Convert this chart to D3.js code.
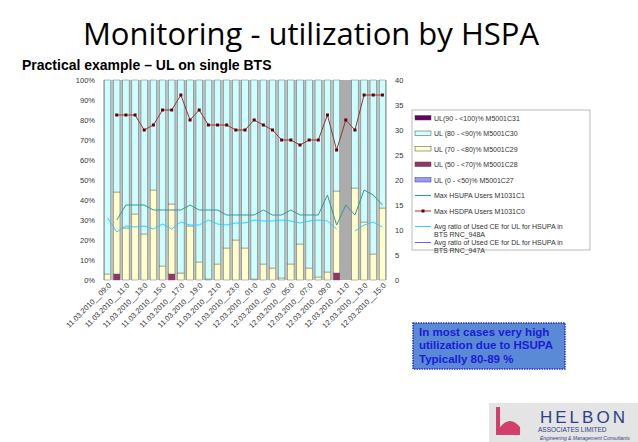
<!DOCTYPE html>
<html><head><meta charset="utf-8">
<script src="https://cdn.jsdelivr.net/npm/d3@7"></script>
<style>body{margin:0;background:#fff}</style>
</head><body>
<script>
"use strict";
var hours = ["09","10","11","12","13","14","15","16","17","18","19","20","21","22","23",
  "00","01","02","03","04","05","06","07","08","09","10","11","12","13","14","15"];
var categories = hours.map(function(h, i) { return (i < 15 ? "11.03.2010__" : "12.03.2010__") + h + ":0"; });
var ul70 = [3,41,26,33,23,45,7,35,3.5,27,9,0.5,8,16,20,16,0.5,8,6,1,8,18,6,1.5,4,41,0,46,29,13,36];
var ul50 = [0,3,0,0,0,0,0,3,0,0,0,0,0,0,0,0,0,0,0,0,0,0,0,0,0,3.5,0,0,0,0,0];
var hsdpa = [null,33,33,33,30,31,34,34,37,32,34,31,31,31,30,30,32,31,30,28,28,27,28,28,33,26,32,30,37,37,37];
var hsupa = [null,12,15,15,15,14,14,14,14,15,14,14,14,13,13,13,13,14,13,13,14,13,13,13,17,11,15,13,18,17,15];
var avgUL = [31,24,27,26.5,27,25.5,28,25.5,29,27.5,27.5,30,28,27.5,28.5,28.5,30,29.5,29.5,30,29.5,28.5,29.5,30,29.5,25.5,null,24.5,27.5,29,26.5];
var leftTicks = [0,10,20,30,40,50,60,70,80,90,100];
var rightTicks = [0,5,10,15,20,25,30,35,40];
var legendItems = [
  {t:["UL(90 - <100)% M5001C31"], k:"box", c:"#660066"},
  {t:["UL (80 - <90)% M5001C30"], k:"box", c:"#ccffff"},
  {t:["UL (70 - <80)% M5001C29"], k:"box", c:"#ffffcc"},
  {t:["UL (50 - <70)% M5001C28"], k:"box", c:"#993366"},
  {t:["UL (0 - <50)% M5001C27"], k:"box", c:"#9999ff"},
  {t:["Max HSUPA Users M1031C1"], k:"line", c:"#339999"},
  {t:["Max HSDPA Users M1031C0"], k:"dot", c:"#993333"},
  {t:["Avg ratio of Used CE for UL for HSUPA in","BTS RNC_948A"], k:"line", c:"#33ccff"},
  {t:["Avg ratio of Used CE for DL for HSUPA in","BTS RNC_947A"], k:"line", c:"#6666ff"}
];

var svg = d3.select("body").append("svg").attr("width", 638).attr("height", 442)
  .style("font-family", "Liberation Sans, Arial, sans-serif");

svg.append("text").attr("x", 311).attr("y", 45).attr("text-anchor", "middle")
  .style("font-family", "Open Sans").style("font-size", "31px").text("Monitoring - utilization by HSPA");
svg.append("text").attr("x", 22).attr("y", 70).style("font-weight", "bold").style("font-size", "14px")
  .text("Practical example \u2013 UL on single BTS");

var L = 103, R = 387, T = 80, B = 280;
var x = d3.scaleBand().domain(d3.range(categories.length)).range([L, R]).paddingInner(0.3).paddingOuter(0.15);
var y = d3.scaleLinear().domain([0, 100]).range([B, T]);
var y2 = d3.scaleLinear().domain([0, 40]).range([B, T]);

svg.append("rect").attr("x", L).attr("y", T).attr("width", R - L).attr("height", B - T).attr("fill", "#c0c0c0");
svg.append("rect").attr("x", x(25) + x.bandwidth()).attr("y", T).attr("width", x(27) - x(25) - x.bandwidth())
  .attr("height", B - T).attr("fill", "#acacac");

var g = svg.append("g");
categories.forEach(function(c, i) {
  if (i === 26) return;
  var segs = [[0, ul50[i], "#993366"], [ul50[i], ul50[i] + ul70[i], "#ffffcc"], [ul50[i] + ul70[i], 100, "#ccffff"]];
  segs.forEach(function(s) {
    if (s[1] - s[0] <= 0) return;
    g.append("rect").attr("x", x(i)).attr("width", x.bandwidth())
      .attr("y", y(s[1])).attr("height", y(s[0]) - y(s[1]))
      .attr("fill", s[2]).attr("stroke", "#555").attr("stroke-width", 0.4);
  });
});

svg.append("g").attr("transform", "translate(" + L + ",0)")
  .call(d3.axisLeft(y).tickValues(leftTicks).tickSize(0).tickPadding(8).tickFormat(function(d) { return d + "%"; }))
  .call(function(a) { a.select(".domain").remove(); a.selectAll("text").style("font-size", "7.5px").attr("fill", "#333"); });
svg.append("g").attr("transform", "translate(" + R + ",0)")
  .call(d3.axisRight(y2).tickValues(rightTicks).tickSize(0).tickPadding(8))
  .call(function(a) { a.select(".domain").remove(); a.selectAll("text").style("font-size", "7.5px").attr("fill", "#333"); });

var cx = function(i) { return x(i) + x.bandwidth() / 2; };
var line2 = d3.line().defined(function(d) { return d != null; }).x(function(d, i) { return cx(i); }).y(function(d) { return y2(d); });
var line1 = d3.line().defined(function(d) { return d != null; }).x(function(d, i) { return cx(i); }).y(function(d) { return y(d); });

svg.append("path").attr("d", line1(avgUL)).attr("fill", "none").attr("stroke", "#33ccff").attr("stroke-width", 1);
svg.append("path").attr("d", line2(hsupa)).attr("fill", "none").attr("stroke", "#339999").attr("stroke-width", 1);
svg.append("path").attr("d", line2(hsdpa)).attr("fill", "none").attr("stroke", "#993333").attr("stroke-width", 1);
hsdpa.forEach(function(d, i) {
  if (d == null) return;
  svg.append("rect").attr("x", cx(i) - 1.5).attr("y", y2(d) - 1.5).attr("width", 3).attr("height", 3).attr("fill", "#660000");
});

// x labels
categories.forEach(function(c, i) {
  if (i % 2) return;
  svg.append("text").attr("transform", "translate(" + (cx(i) + 4) + "," + (B + 6) + ") rotate(-45)")
    .attr("text-anchor", "end").style("font-size", "7.5px").attr("fill", "#333").text(c);
});

// legend
var lg = svg.append("g").attr("transform", "translate(412,110)");
lg.append("rect").attr("width", 178).attr("height", 140).attr("fill", "#fff").attr("stroke", "#bbb");
var ly = 8;
legendItems.forEach(function(it) {
  if (it.k === "box") lg.append("rect").attr("x", 3).attr("y", ly - 2.5).attr("width", 16).attr("height", 4.5).attr("fill", it.c).attr("stroke", "#444").attr("stroke-width", 0.5);
  else lg.append("line").attr("x1", 3).attr("x2", 19).attr("y1", ly).attr("y2", ly).attr("stroke", it.c);
  if (it.k === "dot") lg.append("rect").attr("x", 9.5).attr("y", ly - 1.5).attr("width", 3).attr("height", 3).attr("fill", "#660000");
  it.t.forEach(function(t, j) {
    lg.append("text").attr("x", 22).attr("y", ly + 2.5 + j * 7.5).style("font-size", "7px").attr("fill", "#333").text(t);
  });
  ly += it.t.length > 1 ? 16 : 15.5;
});

// note box
svg.append("rect").attr("x", 413).attr("y", 323).attr("width", 152).attr("height", 46)
  .attr("fill", "#5a8ad6").attr("stroke", "#2233cc").attr("stroke-dasharray", "1.5,1").attr("stroke-width", 1.5);
[["In most cases very high", 336], ["utilization due to HSUPA", 349], ["Typically 80-89 %", 363]].forEach(function(t) {
  svg.append("text").attr("x", 419).attr("y", t[1]).style("font-weight", "bold").style("font-size", "11.5px").attr("fill", "#1a1ad8").text(t[0]);
});

// logo
svg.append("rect").attr("x", 489).attr("y", 403).attr("width", 149).attr("height", 39).attr("fill", "#e4e4e4");
svg.append("path").attr("d", "M496,407 h4 v20 q10,-12 20,0 v8 h-24 z").attr("fill", "#d0406a");
svg.append("text").attr("x", 540).attr("y", 423).style("font-size", "17px").attr("fill", "#2b3f8c").style("letter-spacing", "3px").text("HELBON");
svg.append("text").attr("x", 538).attr("y", 432).style("font-size", "6.5px").attr("fill", "#2b3f8c").text("ASSOCIATES LIMITED");
svg.append("text").attr("x", 540).attr("y", 440).style("font-size", "5px").style("font-style", "italic").attr("fill", "#2b3f8c").text("Engineering & Management Consultants");
</script>
</body></html>
